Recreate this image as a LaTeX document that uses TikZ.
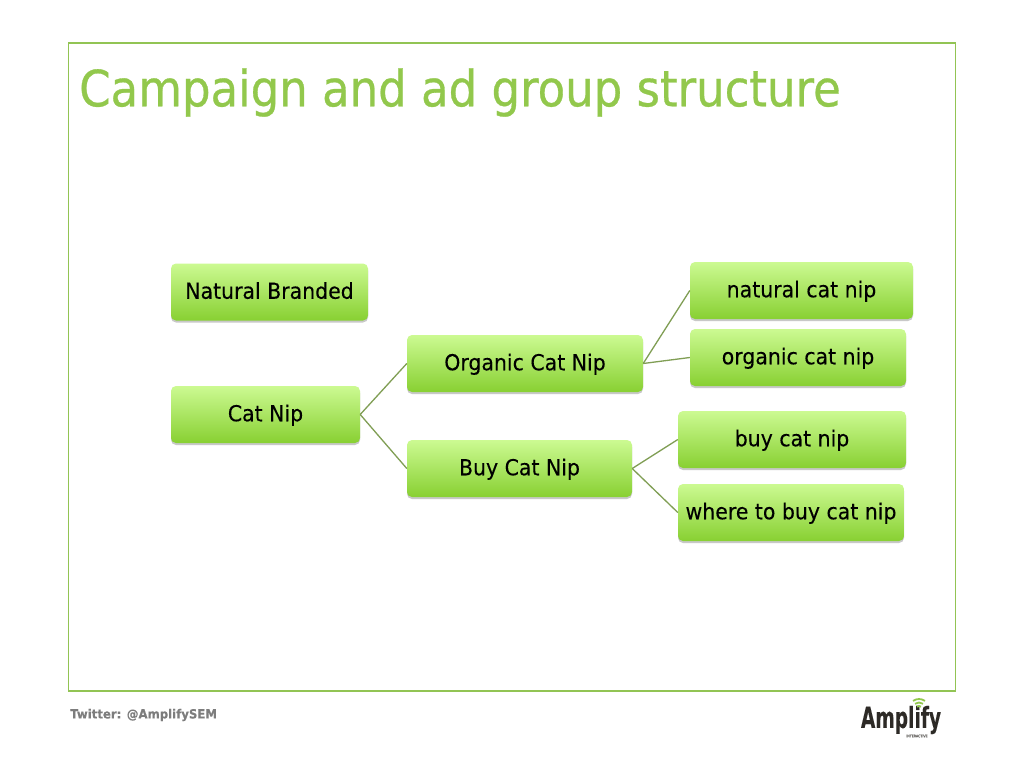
\documentclass[tikz,border=0pt]{standalone}
\usepackage{fontspec}
\setmainfont[FakeStretch=0.93,FakeBold=0.12]{DejaVu Sans}
\newfontfamily\titlefont[FakeStretch=0.9,FakeBold=0.6]{DejaVu Sans}
\usetikzlibrary{shadows}
\definecolor{frame}{RGB}{146,196,84}
\definecolor{titlegreen}{RGB}{146,200,76}
\definecolor{linkgreen}{RGB}{128,158,84}
\definecolor{boxtop}{RGB}{204,250,146}
\definecolor{boxbot}{RGB}{136,208,50}
\definecolor{footgray}{RGB}{125,125,125}
\definecolor{logodark}{RGB}{45,42,38}
\tikzset{
  x=1pt,y=-1pt,
  leaf/.style={rounded corners=5pt,top color=boxtop,bottom color=boxbot,draw=none,
    drop shadow={shadow xshift=0pt,shadow yshift=-2pt,opacity=.3,fill=black!70},
    font=\fontsize{22}{25}\selectfont,text=black,inner sep=0pt,
    text height=15.5pt,text depth=2pt},
  link/.style={draw=linkgreen,line width=1.3pt},
}
\begin{document}
\begin{tikzpicture}
\useasboundingbox (0,0) rectangle (1024,768);
\fill[white] (0,0) rectangle (1024,768);
\draw[frame,line width=1.5pt] (68.5,43) rectangle (955.5,691);
\node[anchor=west,text=titlegreen,inner sep=0pt,font=\fontsize{50}{60}\titlefont] (title) at (79,92.5) {Campaign and ad group structure};
\node[leaf,minimum width=197pt,minimum height=57pt] (nb) at (269.5,292) {Natural Branded};
\node[leaf,minimum width=189pt,minimum height=57pt] (cn) at (265.5,414.5) {Cat Nip};
\node[leaf,minimum width=236pt,minimum height=57pt] (oc) at (525,363.5) {Organic Cat Nip};
\node[leaf,minimum width=225pt,minimum height=57pt] (bc) at (519.5,468.5) {Buy Cat Nip};
\node[leaf,minimum width=223pt,minimum height=57pt] (l1) at (801.5,290.5) {natural cat nip};
\node[leaf,minimum width=216pt,minimum height=57pt] (l2) at (798,357.5) {organic cat nip};
\node[leaf,minimum width=228pt,minimum height=57pt] (l3) at (792,439.5) {buy cat nip};
\node[leaf,minimum width=226pt,minimum height=57pt] (l4) at (791,512.5) {where to buy cat nip};
\draw[link] (cn.east) -- (oc.west);
\draw[link] (cn.east) -- (bc.west);
\draw[link] (oc.east) -- (l1.west);
\draw[link] (oc.east) -- (l2.west);
\draw[link] (bc.east) -- (l3.west);
\draw[link] (bc.east) -- (l4.west);
\node[anchor=west,text=footgray,inner sep=0pt,font=\fontsize{12.6}{15}\selectfont\bfseries] (foot) at (70,715) {Twitter: @AmplifySEM};
% logo
\node[anchor=center,text=logodark,inner sep=0pt,font=\fontsize{29}{30}\selectfont\bfseries] (logo) at (901,720) {\scalebox{0.69}[1]{Amplify}};
\node[anchor=center,text=logodark!70,inner sep=0pt,font=\fontsize{3.5}{4}\selectfont] (logosub) at (917,736) {INTERACTIVE};
\foreach \r in {3.5,7,10.5}
  \draw[titlegreen,line width=1.8pt] (919,709.5) ++(-55:\r) arc[start angle=-55,end angle=-125,radius=\r];
\end{tikzpicture}
\end{document}
